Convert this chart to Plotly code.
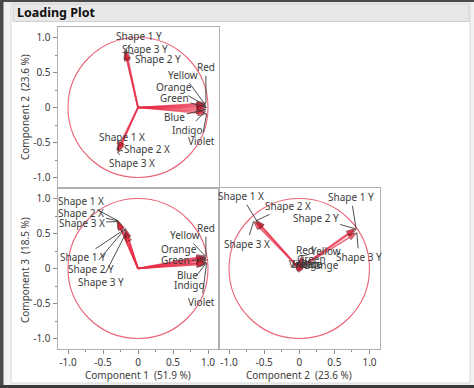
import plotly.graph_objects as go

# ---------------- data ----------------
variables = ["Red", "Orange", "Yellow", "Green", "Blue", "Indigo", "Violet",
             "Shape 1 X", "Shape 2 X", "Shape 3 X",
             "Shape 1 Y", "Shape 2 Y", "Shape 3 Y"]
comp1 = [0.97, 0.97, 0.96, 0.98, 0.97, 0.96, 0.98,
         -0.30, -0.28, -0.29,
         -0.19, -0.18, -0.17]
comp2 = [0.06, 0.02, 0.04, 0.00, -0.03, -0.06, -0.09,
         -0.61, -0.62, -0.65,
         0.81, 0.79, 0.82]
comp3 = [0.16, 0.14, 0.18, 0.12, 0.09, 0.06, 0.08,
         0.69, 0.68, 0.67,
         0.56, 0.57, 0.51]
pct = [51.9, 23.6, 18.5]
tick_vals = [-1.0, -0.5, 0.0, 0.5, 1.0]
tick_text = ["-1.0", "-0.5", "0", "0.5", "1.0"]

# ---------------- label offsets (pixels, per panel) ----------------
off_12 = {"Red": (0, -36), "Yellow": (-22, -30), "Orange": (-32, -19), "Green": (-32, -9),
          "Blue": (-31, 7), "Indigo": (-18, 18), "Violet": (-5, 27),
          "Shape 1 X": (5, -13), "Shape 2 X": (29, -2), "Shape 3 X": (14, 10),
          "Shape 1 Y": (14, -15), "Shape 2 Y": (33, 7), "Shape 3 Y": (19, -1)}
off_13 = {"Red": (0, -29), "Yellow": (-20, -21), "Orange": (-27, -10), "Green": (-31, 0),
          "Blue": (-18, 13), "Indigo": (-16, 21), "Violet": (-5, 39),
          "Shape 1 X": (-36, -19), "Shape 2 X": (-37, -8), "Shape 3 X": (-36, 1),
          "Shape 1 Y": (-42, 28), "Shape 2 Y": (-34, 40), "Shape 3 Y": (-25, 49)}
off_23 = {"Red": (2, -7), "Yellow": (24, -5), "Orange": (20, 6), "Green": (12, -1),
          "Blue": (14, 2), "Indigo": (12, 0), "Violet": (10, 1),
          "Shape 1 X": (-15, -24), "Shape 2 X": (32, -15), "Shape 3 X": (-7, 22),
          "Shape 1 Y": (-5, -32), "Shape 2 Y": (-39, -11), "Shape 3 Y": (2, 24)}

W, H = 474, 388
FONT = "Noto Sans"
TXT = "#3c3c3c"
RED_LINE = "rgba(232,44,70,0.72)"
CIRCLE = "rgb(234,100,120)"
ZERO = "rgb(230,72,102)"

def fx(p):
    return p / W

def fy(p):
    return 1 - p / H

fig = go.Figure()

panels = [
    ("x", "y", comp1, comp2, off_12),
    ("x2", "y2", comp1, comp3, off_13),
    ("x3", "y3", comp2, comp3, off_23),
]

annotations = []
shapes = []
for xa, ya, xv, yv, offs in panels:
    xs, ys, sizes = [], [], []
    for a, b in zip(xv, yv):
        xs += [0, a, None]
        ys += [0, b, None]
        sizes += [0, 9, 0]
    fig.add_trace(go.Scatter(
        x=xs, y=ys, xaxis=xa, yaxis=ya, mode="lines+markers",
        line=dict(color=RED_LINE, width=1.6),
        marker=dict(symbol="arrow", size=sizes, angleref="previous",
                    color="rgb(236,38,62)", line=dict(color="rgb(70,10,15)", width=0.7)),
        hoverinfo="skip", showlegend=False))
    for name, a, b in zip(variables, xv, yv):
        ax, ay = offs[name]
        annotations.append(dict(
            x=a, y=b, xref=xa, yref=ya, text=name, showarrow=True,
            ax=ax, ay=ay, arrowhead=0, arrowwidth=0.9, arrowcolor="#3a3a3a",
            font=dict(family=FONT, size=10, color=TXT)))
    shapes.append(dict(type="circle", xref=xa, yref=ya, x0=-1, x1=1, y0=-1, y1=1,
                       line=dict(color=CIRCLE, width=1.1), layer="below"))
    xd = xa + " domain"
    yd = ya + " domain"
    shapes.append(dict(type="line", xref=xd, yref=ya, x0=0, x1=1, y0=0, y1=0,
                       line=dict(color=ZERO, width=1.2, dash="dot"), layer="below"))
    shapes.append(dict(type="line", xref=xa, yref=yd, x0=0, x1=0, y0=0, y1=1,
                       line=dict(color=ZERO, width=1.2, dash="dot"), layer="below"))

# frame / header decorations
shapes += [
    dict(type="rect", xref="paper", yref="paper", x0=0, x1=1, y0=fy(388), y1=fy(0),
         fillcolor="#f2f2f2", line=dict(width=0), layer="below"),
    dict(type="rect", xref="paper", yref="paper", x0=fx(11), x1=fx(470), y0=fy(383), y1=fy(3),
         fillcolor="white", line=dict(color="#d8d8d8", width=1), layer="below"),
    dict(type="rect", xref="paper", yref="paper", x0=fx(13), x1=fx(469), y0=fy(21.5), y1=fy(4),
         fillcolor="#e8e8e8", line=dict(color="#cfcfcf", width=1), layer="below"),
    dict(type="rect", xref="paper", yref="paper", x0=0, x1=fx(3.5), y0=0, y1=1,
         fillcolor="#4a4a4a", line=dict(width=0)),
    dict(type="rect", xref="paper", yref="paper", x0=0, x1=1, y0=fy(2), y1=1,
         fillcolor="#4a4a4a", line=dict(width=0)),
    dict(type="rect", xref="paper", yref="paper", x0=0, x1=1, y0=0, y1=fy(385),
         fillcolor="#3a3a3a", line=dict(width=0)),
]

annotations += [
    dict(xref="paper", yref="paper", x=fx(15), y=fy(12.5), xanchor="left", yanchor="middle",
         text="<b>Loading Plot</b>", showarrow=False,
         font=dict(family=FONT, size=12.5, color="#111111")),
    dict(xref="paper", yref="paper", x=fx(137.5), y=fy(375), xanchor="center", yanchor="middle",
         text=f"Component 1  ({pct[0]} %)", showarrow=False,
         font=dict(family=FONT, size=10, color=TXT)),
    dict(xref="paper", yref="paper", x=fx(299), y=fy(375), xanchor="center", yanchor="middle",
         text=f"Component 2  ({pct[1]} %)", showarrow=False,
         font=dict(family=FONT, size=10, color=TXT)),
    dict(xref="paper", yref="paper", x=fx(25), y=fy(107), xanchor="center", yanchor="middle",
         text=f"Component 2  ({pct[1]} %)", showarrow=False, textangle=-90,
         font=dict(family=FONT, size=10, color=TXT)),
    dict(xref="paper", yref="paper", x=fx(25), y=fy(270), xanchor="center", yanchor="middle",
         text=f"Component 3  ({pct[2]} %)", showarrow=False, textangle=-90,
         font=dict(family=FONT, size=10, color=TXT)),
]

col1 = [fx(57.5), fx(218.5)]
col2 = [fx(218.5), fx(380)]
row1 = [fy(188), fy(27)]
row2 = [fy(349), fy(188)]
RNG = [-1.15, 1.15]

def ax_style(domain, anchor, labels, ticks=True):
    d = dict(domain=domain, anchor=anchor, range=RNG, showgrid=False, zeroline=False,
             showline=True, mirror=True, linecolor="#b0b0b0", linewidth=1,
             tickmode="array", tickvals=tick_vals, ticktext=tick_text,
             showticklabels=labels, ticks="outside" if ticks else "",
             ticklen=4, tickcolor="#8c8c8c", tickwidth=1,
             tickfont=dict(family=FONT, size=10, color=TXT), fixedrange=True)
    if ticks:
        d["minor"] = dict(tickvals=[-0.75, -0.25, 0.25, 0.75], ticks="outside",
                          ticklen=2, tickcolor="#8c8c8c")
    return d

fig.update_layout(
    width=W, height=H, margin=dict(l=0, r=0, t=0, b=0),
    paper_bgcolor="white", plot_bgcolor="white",
    xaxis=ax_style(col1, "y", False, ticks=False),
    yaxis=ax_style(row1, "x", True),
    xaxis2=ax_style(col1, "y2", True),
    yaxis2=ax_style(row2, "x2", True),
    xaxis3=ax_style(col2, "y3", True),
    yaxis3=ax_style(row2, "x3", False, ticks=False),
    shapes=shapes, annotations=annotations,
)

fig.write_html("out.html")
